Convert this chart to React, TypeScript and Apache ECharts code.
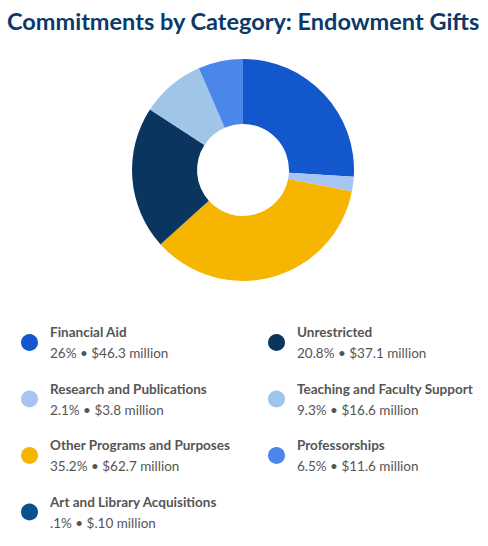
import React, { useRef, useEffect } from 'react'
import * as echarts from 'echarts'

// 数据
const categories = [
  'Financial Aid',
  'Research and Publications',
  'Other Programs and Purposes',
  'Art and Library Acquisitions',
  'Unrestricted',
  'Teaching and Faculty Support',
  'Professorships',
]
const amounts = [46.3, 3.8, 62.7, 0.1, 37.1, 16.6, 11.6]
const percentLabels = ['26%', '2.1%', '35.2%', '.1%', '20.8%', '9.3%', '6.5%']
const amountLabels = [
  '$46.3 million',
  '$3.8 million',
  '$62.7 million',
  '$.10 million',
  '$37.1 million',
  '$16.6 million',
  '$11.6 million',
]
const colors = ['#1257cc', '#a7c5f3', '#f5b500', '#0c4f91', '#0a355f', '#9fc5e8', '#4b87e8']

const leftLegend = categories.slice(0, 4)
const rightLegend = categories.slice(4)

const FONT = 'Lato, sans-serif'

const App: React.FC = () => {
  const chartRef = useRef<HTMLDivElement>(null)

  useEffect(() => {
    if (!chartRef.current) return
    const chart = echarts.init(chartRef.current, undefined, { renderer: 'svg' })

    const legendFormatter = (name: string) => {
      const i = categories.indexOf(name)
      return `{name|${name}}\n{val|${percentLabels[i]} • ${amountLabels[i]}}`
    }
    const legendText = {
      rich: {
        name: {
          fontFamily: FONT,
          fontSize: 13.5,
          fontWeight: 'bold',
          color: '#555555',
          lineHeight: 21,
          padding: [0, 0, 0, 7],
        },
        val: {
          fontFamily: FONT,
          fontSize: 13.5,
          color: '#555555',
          lineHeight: 21,
          padding: [0, 0, 0, 7],
        },
      },
    }
    const legendBase = {
      orient: 'vertical' as const,
      top: 325,
      padding: 0,
      icon: 'circle',
      itemWidth: 17,
      itemHeight: 17,
      itemGap: 21.5,
      selectedMode: false,
      formatter: legendFormatter,
      textStyle: legendText,
    }

    chart.setOption({
      animation: false,
      title: {
        text: 'Commitments by Category: Endowment Gifts',
        left: 7,
        top: 9,
        padding: 0,
        textStyle: {
          fontFamily: FONT,
          fontSize: 23.5,
          fontWeight: 'bold',
          color: '#0b3a6a',
        },
      },
      legend: [
        { ...legendBase, left: 21, data: leftLegend },
        { ...legendBase, left: 268, data: rightLegend },
      ],
      series: [
        {
          type: 'pie',
          center: [243, 170],
          radius: [46, 111],
          startAngle: 90,
          clockwise: true,
          label: { show: false },
          labelLine: { show: false },
          emphasis: { disabled: true },
          data: categories.map((name, i) => ({
            name,
            value: amounts[i],
            itemStyle: { color: colors[i] },
          })),
        },
      ],
    })

    return () => {
      chart.dispose()
    }
  }, [])

  return (
    <div
      ref={chartRef}
      style={{ position: 'absolute', left: 0, top: 0, width: 488, height: 546 }}
    />
  )
}

export default App
